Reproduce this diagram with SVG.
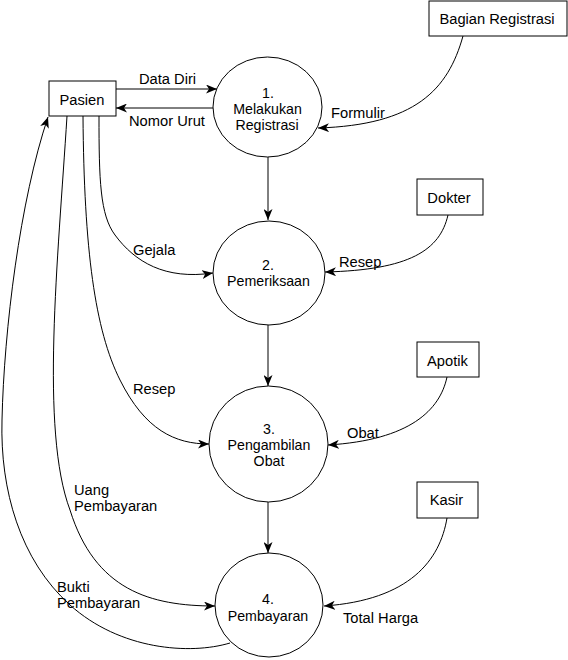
<svg xmlns="http://www.w3.org/2000/svg" width="568" height="660" viewBox="0 0 568 660">
<style>
  .box { fill: #ffffff; stroke: #000000; stroke-width: 1; }
  .proc { fill: #ffffff; stroke: #000000; stroke-width: 1; }
  .flow { fill: none; stroke: #000000; stroke-width: 1; marker-end: url(#arr); }
  text { font-family: "Liberation Sans", Arial, sans-serif; font-size: 14.7px; fill: #000000; }
  .c { text-anchor: middle; }
  .n { font-size: 14.2px; }
</style>
<defs>
  <marker id="arr" viewBox="0 0 11 9" refX="11" refY="4.5" markerWidth="11" markerHeight="9" markerUnits="userSpaceOnUse" orient="auto">
    <path d="M0,0 L11,4.5 L0,9 L3,4.5 z" fill="#000000"/>
  </marker>
</defs>
<rect width="568" height="660" fill="#ffffff"/>

<g id="connectors">
  <path id="data-diri" class="flow" d="M116,89 L217,89"/>
  <path id="nomor-urut" class="flow" d="M213,108 L116,108"/>
  <path id="formulir" class="flow" d="M463,36 C448,90 415,125 318,128"/>
  <path id="p1-p2" class="flow" d="M268,157 L268,220"/>
  <path id="resep-dokter" class="flow" d="M448,215 C440,250 410,270 325,272"/>
  <path id="gejala" class="flow" d="M99,116 C99,180 100,215 115,235 C135,262 165,280 213,273"/>
  <path id="p2-p3" class="flow" d="M268,325 L268,386"/>
  <path id="resep-pasien" class="flow" d="M83,116 C84,250 95,330 120,380 C145,430 175,444 209,444"/>
  <path id="obat" class="flow" d="M447,377 C440,410 410,440 328,445"/>
  <path id="p3-p4" class="flow" d="M268,502 L268,553"/>
  <path id="uang" class="flow" d="M67,116 C58,260 40,430 70,510 C95,590 150,606 215,606"/>
  <path id="total-harga" class="flow" d="M447,518 C440,560 410,600 324,606"/>
  <path id="bukti" class="flow" d="M230,643 C190,655 120,650 70,605 C20,560 0,490 2,420 C4,330 20,200 48,117"/>
</g>

<g id="labels">
  <text x="139" y="84">Data Diri</text>
  <text x="129" y="126">Nomor Urut</text>
  <text x="331" y="118">Formulir</text>
  <text x="133" y="255">Gejala</text>
  <text x="339" y="267">Resep</text>
  <text x="133" y="394">Resep</text>
  <text x="347" y="438">Obat</text>
  <text x="74" y="495">Uang</text>
  <text x="74" y="511">Pembayaran</text>
  <text x="57" y="592">Bukti</text>
  <text x="57" y="608">Pembayaran</text>
  <text x="343" y="623">Total Harga</text>
</g>

<g id="pasien">
  <rect class="box" x="49" y="81" width="67" height="35"/>
  <text class="c" x="82" y="105">Pasien</text>
</g>
<g id="bagian-registrasi">
  <rect class="box" x="429" y="1" width="138" height="35"/>
  <text class="c" x="497" y="24">Bagian Registrasi</text>
</g>
<g id="dokter">
  <rect class="box" x="417" y="179" width="66" height="36"/>
  <text class="c" x="449" y="203">Dokter</text>
</g>
<g id="apotik">
  <rect class="box" x="417" y="342" width="62" height="35"/>
  <text class="c" x="447.5" y="366">Apotik</text>
</g>
<g id="kasir">
  <rect class="box" x="417" y="482" width="61" height="36"/>
  <text class="c" x="446.5" y="505">Kasir</text>
</g>

<g id="proses-1">
  <ellipse class="proc" cx="267.5" cy="107" rx="54.5" ry="50"/>
  <text class="c n" x="268" y="98">1.</text>
  <text class="c n" x="267.5" y="114">Melakukan</text>
  <text class="c n" x="267" y="130">Registrasi</text>
</g>
<g id="proses-2">
  <ellipse class="proc" cx="269" cy="273" rx="56" ry="52"/>
  <text class="c n" x="268" y="270">2.</text>
  <text class="c n" x="268.5" y="286">Pemeriksaan</text>
</g>
<g id="proses-3">
  <ellipse class="proc" cx="268.5" cy="444" rx="59.5" ry="58"/>
  <text class="c n" x="269" y="434">3.</text>
  <text class="c n" x="269" y="450">Pengambilan</text>
  <text class="c n" x="269" y="466">Obat</text>
</g>
<g id="proses-4">
  <ellipse class="proc" cx="269" cy="605" rx="54" ry="52"/>
  <text class="c n" x="268" y="604">4.</text>
  <text class="c n" x="268" y="621">Pembayaran</text>
</g>
</svg>
